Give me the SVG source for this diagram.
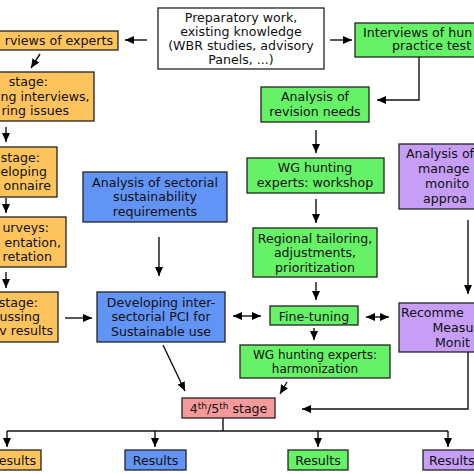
<svg xmlns="http://www.w3.org/2000/svg" width="474" height="474" viewBox="0 0 474 474">
<defs>
<marker id="ah" markerUnits="userSpaceOnUse" markerWidth="10" markerHeight="9" refX="9" refY="4.5" orient="auto-start-reverse">
<path d="M0,0.5 L9,4.5 L0,8.5 z" fill="#000"/>
</marker>
<style>
.box{stroke:#222;stroke-width:1.3}
.o{fill:#fdc45e}.g{fill:#66f266}.b{fill:#6194f4}.p{fill:#c69ef5}.r{fill:#f59a9a}.w{fill:#fff}
text{font-family:"DejaVu Sans","Liberation Sans",sans-serif;font-size:12.6px;fill:#111}
.c{text-anchor:middle}.e{text-anchor:end}
.con line,.con polyline{stroke:#111;stroke-width:1.4;fill:none}
.a{marker-end:url(#ah)}
.d{marker-start:url(#ah);marker-end:url(#ah)}
</style>
</defs>
<rect width="474" height="474" fill="#fff"/>

<g id="prep"><rect class="box w" x="158" y="8" width="166" height="61"/>
<text class="c" x="241" y="21.5">Preparatory work,</text>
<text class="c" x="241" y="35.5">existing knowledge</text>
<text class="c" x="241" y="49.5">(WBR studies, advisory</text>
<text class="c" x="241" y="64">Panels, ...)</text></g>

<g id="experts"><rect class="box o" x="-10" y="31" width="128" height="19"/>
<text class="e" x="113" y="45">rviews of experts</text></g>

<g id="stage1"><rect class="box o" x="-10" y="72" width="104" height="49"/>
<text class="e" x="48" y="85.5">stage:</text>
<text class="e" x="89.5" y="100.5">ng interviews,</text>
<text class="e" x="69" y="114.5">ring issues</text></g>

<g id="stage2"><rect class="box o" x="-10" y="147" width="67" height="50"/>
<text class="e" x="40" y="161.5">stage:</text>
<text class="e" x="47" y="176">eloping</text>
<text class="e" x="51" y="190">onnaire</text></g>

<g id="surveys"><rect class="box o" x="-10" y="217" width="76" height="50"/>
<text class="e" x="49" y="232">urveys:</text>
<text class="e" x="61" y="246.5">entation,</text>
<text class="e" x="52" y="260.5">retation</text></g>

<g id="stage3"><rect class="box o" x="-10" y="292" width="68" height="50"/>
<text class="e" x="38" y="306.5">stage:</text>
<text class="e" x="40" y="320.5">ussing</text>
<text class="e" x="53" y="335">v results</text></g>

<g id="sect"><rect class="box b" x="83" y="172" width="144" height="50"/>
<text class="c" x="155" y="186.5">Analysis of sectorial</text>
<text class="c" x="155" y="201">sustainability</text>
<text class="c" x="155" y="215.5">requirements</text></g>

<g id="pci"><rect class="box b" x="97" y="292" width="128" height="50"/>
<text class="c" x="161" y="306.5">Developing inter-</text>
<text class="c" x="161" y="321">sectorial PCI for</text>
<text class="c" x="161" y="335.5">Sustainable use</text></g>

<g id="hunters"><rect class="box g" x="355" y="23" width="130" height="34"/>
<text x="363" y="36.5">Interviews of hun</text>
<text x="392" y="50">practice test</text></g>

<g id="revision"><rect class="box g" x="261" y="87" width="108" height="35"/>
<text class="c" x="315" y="100.5">Analysis of</text>
<text class="c" x="315" y="116">revision needs</text></g>

<g id="workshop"><rect class="box g" x="247" y="158" width="137" height="35"/>
<text class="c" x="315" y="172">WG hunting</text>
<text class="c" x="315" y="187">experts: workshop</text></g>

<g id="regional"><rect class="box g" x="253" y="228" width="124" height="49"/>
<text class="c" x="315" y="242.5">Regional tailoring,</text>
<text class="c" x="315" y="257">adjustments,</text>
<text class="c" x="315" y="272">prioritization</text></g>

<g id="fine"><rect class="box g" x="270" y="306" width="88" height="19"/>
<text class="c" x="314" y="320.5">Fine-tuning</text></g>

<g id="harmon"><rect class="box g" x="240" y="345" width="150" height="33"/>
<text class="c" x="315" y="359" style="font-size:12px">WG hunting experts:</text>
<text class="c" x="315" y="373" style="font-size:12px">harmonization</text></g>

<g id="mgmt"><rect class="box p" x="399" y="144" width="90" height="65"/>
<text x="406" y="157.5">Analysis of</text>
<text x="418" y="172.5">manage</text>
<text x="425" y="187.5">monito</text>
<text x="423" y="202.5">approa</text></g>

<g id="recom"><rect class="box p" x="399" y="303" width="90" height="49"/>
<text x="401" y="316.5">Recomme</text>
<text x="432.5" y="331.5">Measu</text>
<text x="435" y="346.5">Monit</text></g>

<g id="stage45"><rect class="box r" x="182" y="398" width="93" height="20"/>
<text class="c" x="228.5" y="412.5">4<tspan font-size="9" dy="-4">th</tspan><tspan dy="4">/5</tspan><tspan font-size="9" dy="-4">th</tspan><tspan dy="4"> stage</tspan></text></g>

<g id="res1"><rect class="box o" x="-10" y="450" width="51" height="20"/>
<text class="e" x="36" y="464.5">esults</text></g>
<g id="res2"><rect class="box b" x="125" y="450" width="61" height="20"/>
<text class="c" x="155.5" y="464.5">Results</text></g>
<g id="res3"><rect class="box g" x="288" y="450" width="60" height="20"/>
<text class="c" x="318" y="464.5">Results</text></g>
<g id="res4"><rect class="box p" x="423" y="450" width="62" height="20"/>
<text x="429" y="464.5">Results</text></g>

<g class="con" id="connectors">
<line class="a" x1="147" y1="40" x2="125" y2="40"/>
<line class="a" x1="330" y1="40" x2="352" y2="40"/>
<line class="a" x1="40" y1="54" x2="31" y2="68"/>
<line class="a" x1="6" y1="127" x2="6" y2="142"/>
<line class="a" x1="6" y1="198" x2="6" y2="213"/>
<line class="a" x1="6" y1="272" x2="6" y2="288"/>
<line class="a" x1="65" y1="318" x2="92" y2="318"/>
<line class="a" x1="159" y1="237" x2="159" y2="276"/>
<polyline class="a" points="419,57 419,100 377,100"/>
<line class="a" x1="316" y1="130" x2="316" y2="153"/>
<line class="a" x1="316" y1="199" x2="316" y2="223"/>
<line class="a" x1="316" y1="282" x2="316" y2="300"/>
<line class="d" x1="233" y1="316" x2="261" y2="316"/>
<line class="d" x1="366" y1="317" x2="389" y2="317"/>
<line class="a" x1="314" y1="328" x2="314" y2="340"/>
<line class="a" x1="287" y1="382" x2="280" y2="394"/>
<line class="a" x1="163" y1="345" x2="185" y2="391"/>
<line class="a" x1="468" y1="220" x2="468" y2="294"/>
<polyline class="a" points="468,352 468,409 302,409"/>
<line x1="223" y1="418" x2="223" y2="431"/>
<line x1="7" y1="431" x2="448" y2="431"/>
<line class="a" x1="7" y1="431" x2="7" y2="447"/>
<line class="a" x1="155" y1="431" x2="155" y2="447"/>
<line class="a" x1="318" y1="431" x2="318" y2="447"/>
<line class="a" x1="448" y1="431" x2="448" y2="447"/>
</g>
</svg>
